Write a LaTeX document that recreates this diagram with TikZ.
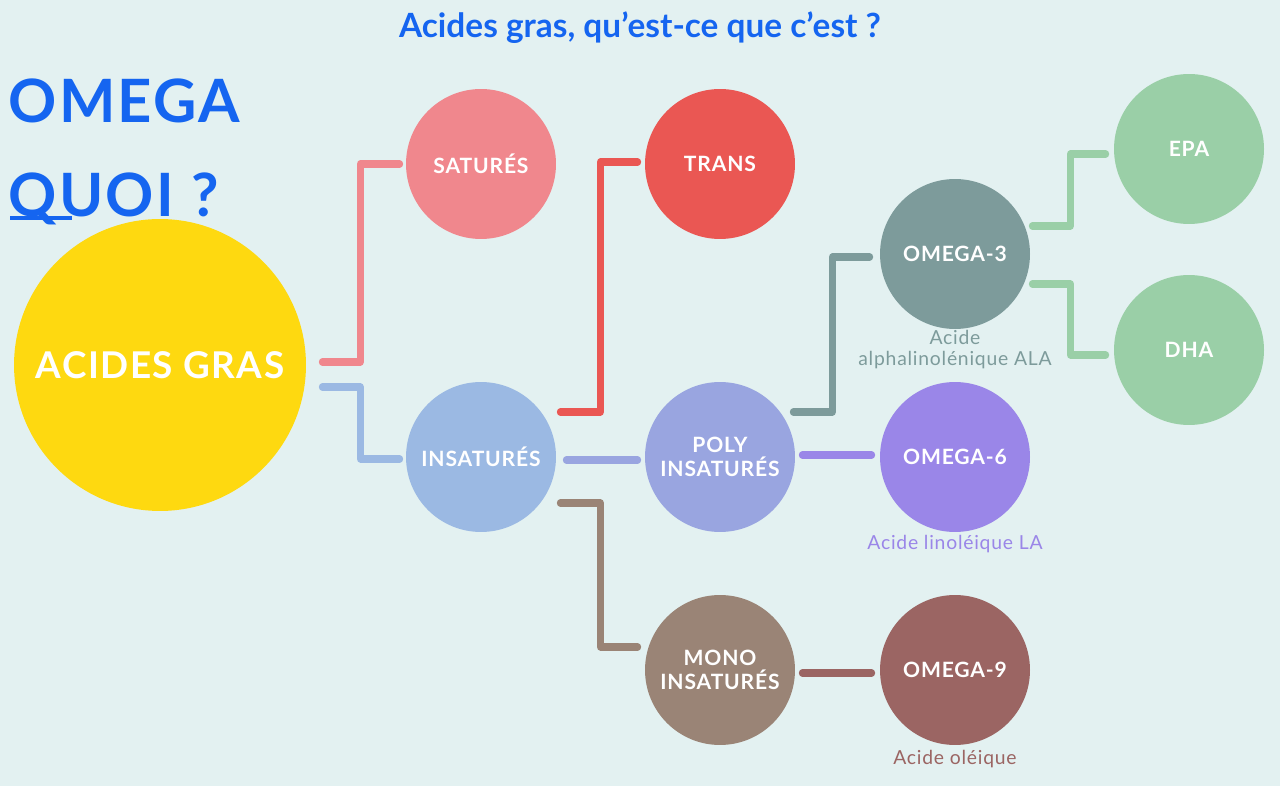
\documentclass[tikz,border=0pt]{standalone}
\usepackage{fontspec}
\setmainfont{Lato}
\newfontfamily\spaced[LetterSpace=4]{Lato}
\usetikzlibrary{calc}
\definecolor{bgc}{HTML}{E3F1F1}
\definecolor{titleblue}{HTML}{1565F0}
\definecolor{cyellow}{HTML}{FED910}
\definecolor{cpink}{HTML}{F0878D}
\definecolor{cblue}{HTML}{9BB9E3}
\definecolor{cred}{HTML}{EA5753}
\definecolor{cpoly}{HTML}{99A5E0}
\definecolor{cmono}{HTML}{9A8476}
\definecolor{cgray}{HTML}{7D9B9B}
\definecolor{cviolet}{HTML}{9A86E8}
\definecolor{cbrown}{HTML}{9B6563}
\definecolor{cgreen}{HTML}{9ACFA7}
\tikzset{
  bubble/.style={circle, minimum size=3cm, inner sep=0pt, align=center,
    text=white, font=\spaced\bfseries\fontsize{12}{14}\selectfont},
  link/.style={line width=4pt, line cap=round, line join=round},
  note/.style={align=center, font=\fontsize{11}{12}\selectfont\spaced}
}
\begin{document}
\begin{tikzpicture}[x=0.02cm,y=-0.02cm]
\fill[bgc] (0,0) rectangle (1280,786);
\node[text=titleblue, font=\bfseries\fontsize{19}{22}\selectfont] (title) at (640,28) {Acides gras, qu'est-ce que c'est ?};
\node[text=titleblue, anchor=north west, align=left, inner sep=0pt,
  font=\spaced\bfseries\fontsize{34}{54}\selectfont] (omega) at (8,78) {OMEGA\\QUOI ?};
\draw[titleblue, line width=2pt] (10,218) -- (72,218);
% cercles
\node[bubble, fill=cyellow, minimum size=5.84cm, font=\spaced\bfseries\fontsize{21}{24}\selectfont] (ag) at (160,365) {ACIDES GRAS};
\node[bubble, fill=cpink] (sat) at (481,164) {SATURÉS};
\node[bubble, fill=cblue] (ins) at (481,457) {INSATURÉS};
\node[bubble, fill=cred] (trans) at (720,164) {TRANS};
\node[bubble, fill=cpoly] (poly) at (720,457) {POLY\\INSATURÉS};
\node[bubble, fill=cmono] (mono) at (720,670) {MONO\\INSATURÉS};
\node[bubble, fill=cgray] (o3) at (955,254) {OMEGA-3};
\node[bubble, fill=cviolet] (o6) at (955,457) {OMEGA-6};
\node[bubble, fill=cbrown] (o9) at (955,670) {OMEGA-9};
\node[bubble, fill=cgreen] (epa) at (1189,149) {EPA};
\node[bubble, fill=cgreen] (dha) at (1189,350) {DHA};
% notes
\node[note, text=cgray] (ala) at (955,350) {Acide\\alphalinolénique ALA};
\node[note, text=cviolet] (la) at (955,544) {Acide linoléique LA};
\node[note, text=cbrown] (ole) at (955,759) {Acide oléique};
% liens
\draw[link, cpink] ($(ag.east)+(16,-3)$) -- ++(38,0) |- ($(sat.west)+(-6,0)$);
\draw[link, cblue] ($(ag.east)+(16,22)$) -- ++(38,0) |- ($(ins.west)+(-6,2)$);
\draw[link, cred] ($(ins.east)+(4,-45)$) -- ++(40,0) |- ($(trans.west)+(-7,-2)$);
\draw[link, cpoly] ($(ins.east)+(10,3)$) -- ($(poly.west)+(-7,3)$);
\draw[link, cmono] ($(ins.east)+(4,46)$) -- ++(40,0) |- ($(mono.west)+(-7,-23)$);
\draw[link, cgray] ($(poly.east)+(-2,-45)$) -- ++(39,0) |- ($(o3.west)+(-10,3)$);
\draw[link, cviolet] ($(poly.east)+(7,-2)$) -- ($(o6.west)+(-8,-2)$);
\draw[link, cbrown] ($(mono.east)+(7,3)$) -- ($(o9.west)+(-8,3)$);
\draw[link, cgreen] ($(o3.east)+(2,-28)$) -- ++(38,0) |- ($(epa.west)+(-8,5)$);
\draw[link, cgreen] ($(o3.east)+(2,30)$) -- ++(38,0) |- ($(dha.west)+(-8,5)$);
\end{tikzpicture}
\end{document}
